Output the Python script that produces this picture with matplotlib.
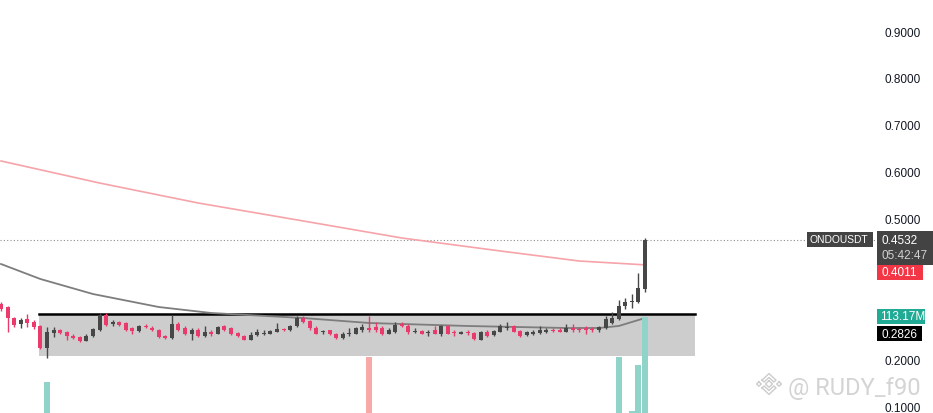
import matplotlib
matplotlib.use("Agg")
import matplotlib.pyplot as plt
from matplotlib.patches import Rectangle
import numpy as np

# candles (OHLC), oldest first
opens = [0.318, 0.311, 0.288, 0.275, 0.286, 0.279, 0.271, 0.224, 0.256, 0.262,
         0.258, 0.249, 0.247, 0.239, 0.249, 0.262, 0.294, 0.275, 0.279, 0.277,
         0.266, 0.260, 0.271, 0.266, 0.262, 0.249, 0.245, 0.275, 0.266, 0.254,
         0.262, 0.249, 0.258, 0.254, 0.271, 0.266, 0.256, 0.249, 0.241, 0.251,
         0.254, 0.254, 0.258, 0.264, 0.262, 0.271, 0.288, 0.281, 0.266, 0.258,
         0.262, 0.254, 0.245, 0.254, 0.254, 0.262, 0.266, 0.269, 0.266, 0.254,
         0.258, 0.275, 0.271, 0.258, 0.260, 0.256, 0.262, 0.254, 0.271, 0.258,
         0.254, 0.258, 0.256, 0.241, 0.258, 0.251, 0.258, 0.266, 0.271, 0.260,
         0.251, 0.254, 0.256, 0.258, 0.262, 0.262, 0.258, 0.266, 0.264, 0.266,
         0.264, 0.262, 0.266, 0.277, 0.286, 0.313, 0.322, 0.322, 0.350]
highs = [0.322, 0.313, 0.290, 0.288, 0.296, 0.283, 0.272, 0.269, 0.269, 0.264,
         0.260, 0.254, 0.249, 0.254, 0.266, 0.298, 0.298, 0.283, 0.281, 0.279,
         0.269, 0.273, 0.275, 0.271, 0.264, 0.251, 0.294, 0.279, 0.271, 0.266,
         0.266, 0.271, 0.262, 0.271, 0.273, 0.269, 0.258, 0.251, 0.258, 0.264,
         0.262, 0.262, 0.277, 0.266, 0.273, 0.292, 0.292, 0.283, 0.271, 0.262,
         0.263, 0.256, 0.258, 0.266, 0.269, 0.275, 0.292, 0.279, 0.271, 0.266,
         0.279, 0.279, 0.275, 0.266, 0.262, 0.262, 0.271, 0.273, 0.273, 0.262,
         0.260, 0.262, 0.258, 0.260, 0.262, 0.262, 0.275, 0.279, 0.273, 0.262,
         0.260, 0.262, 0.271, 0.266, 0.266, 0.266, 0.275, 0.275, 0.269, 0.271,
         0.269, 0.271, 0.292, 0.301, 0.326, 0.330, 0.339, 0.384, 0.4575]
lows = [0.303, 0.258, 0.269, 0.266, 0.269, 0.264, 0.222, 0.202, 0.247, 0.254,
        0.241, 0.243, 0.237, 0.238, 0.247, 0.260, 0.271, 0.271, 0.271, 0.260,
        0.254, 0.258, 0.266, 0.260, 0.245, 0.243, 0.244, 0.260, 0.251, 0.241,
        0.248, 0.248, 0.249, 0.253, 0.260, 0.251, 0.248, 0.240, 0.240, 0.249,
        0.251, 0.253, 0.257, 0.260, 0.261, 0.269, 0.278, 0.262, 0.253, 0.254,
        0.251, 0.243, 0.243, 0.249, 0.253, 0.258, 0.258, 0.258, 0.251, 0.253,
        0.256, 0.269, 0.254, 0.256, 0.253, 0.249, 0.253, 0.249, 0.253, 0.249,
        0.253, 0.251, 0.241, 0.240, 0.247, 0.249, 0.257, 0.262, 0.257, 0.248,
        0.249, 0.251, 0.254, 0.256, 0.258, 0.257, 0.257, 0.258, 0.258, 0.254,
        0.258, 0.258, 0.264, 0.275, 0.283, 0.307, 0.309, 0.320, 0.343]
closes = [0.307, 0.288, 0.273, 0.283, 0.277, 0.269, 0.224, 0.258, 0.262, 0.256,
          0.249, 0.245, 0.239, 0.249, 0.264, 0.294, 0.273, 0.279, 0.273, 0.262,
          0.260, 0.271, 0.269, 0.262, 0.247, 0.245, 0.275, 0.262, 0.254, 0.262,
          0.249, 0.258, 0.254, 0.269, 0.262, 0.254, 0.249, 0.241, 0.251, 0.258,
          0.256, 0.260, 0.264, 0.262, 0.271, 0.288, 0.279, 0.266, 0.254, 0.260,
          0.254, 0.245, 0.254, 0.256, 0.266, 0.269, 0.262, 0.262, 0.254, 0.262,
          0.273, 0.271, 0.258, 0.260, 0.254, 0.258, 0.254, 0.271, 0.254, 0.256,
          0.258, 0.256, 0.243, 0.258, 0.249, 0.260, 0.271, 0.269, 0.258, 0.249,
          0.258, 0.258, 0.262, 0.262, 0.260, 0.258, 0.266, 0.262, 0.262, 0.262,
          0.262, 0.269, 0.286, 0.288, 0.313, 0.322, 0.324, 0.352, 0.4532]

# moving averages, sampled at candle positions
red_ma_idx = [0, 15, 30, 46, 61, 76, 88, 98]
red_ma_val = [0.6227, 0.5757, 0.5331, 0.4947, 0.4584, 0.4307, 0.4093, 0.4011]
gray_ma_idx = [0, 6, 14, 24, 32, 46, 56, 71, 86, 91, 94, 98]
gray_ma_val = [0.4029, 0.3709, 0.3389, 0.3112, 0.2984, 0.2877, 0.2771, 0.2707,
               0.2664, 0.2664, 0.2707, 0.2877]

# volume bars tall enough to show (millions)
vol_idx = [7, 56, 94, 96, 97, 98]
vol_val = [73.8, 88.9, 88.9, 56.2, 84.1, 113.17]

# range box
box_start, box_end = 5.8, 105.6
box_low, box_high = 0.2067, 0.2963

last_price = 0.4532
y_ticks = [0.1, 0.2, 0.3, 0.4, 0.5, 0.6, 0.7, 0.8, 0.9]

UP = "#474747"
DOWN = "#ea3a6c"
W, H = 933, 414
FONT = "Liberation Sans"

fig = plt.figure(figsize=(W / 100, H / 100), dpi=100)
ax = fig.add_axes([0, 0, 875 / W, 1])

x = np.arange(len(opens))
o = np.array(opens)
c = np.array(closes)
up = c >= o
colors = [UP if u else DOWN for u in up]

ax.add_patch(Rectangle((box_start, box_low), box_end - box_start, box_high - box_low,
                       facecolor="#cdcdcd", edgecolor="none", zorder=1))
ax.plot([box_start, box_end], [box_high, box_high], color="black", lw=1.8, zorder=2)

ax.plot(red_ma_idx, red_ma_val, color="#f6a3a9", lw=1.2, zorder=2)
ax.plot(gray_ma_idx, gray_ma_val, color="#7d7d7d", lw=1.3, zorder=2)

ax.vlines(x, lows, highs, colors=colors, lw=1, zorder=3)
body = np.maximum(np.abs(c - o), 0.0014)
ax.bar(x, body, bottom=np.minimum(o, c), width=0.62, color=colors, zorder=4)

ax.axhline(last_price, color="#8c8c8c", ls=(0, (1, 2)), lw=0.8, zorder=1)

ax.set_xlim(-0.15, 133)
ax.set_ylim(0.08507, 0.96827)
ax.set_xticks([])
for s in ax.spines.values():
    s.set_visible(False)

axv = ax.twinx()
vcol = ["#8fd3c9" if up[i] else "#f7a9a8" for i in vol_idx]
axv.bar(vol_idx, vol_val, width=0.9, color=vcol, zorder=5)
axv.set_ylim(55, 305.9)
axv.set_yticks([])
for s in axv.spines.values():
    s.set_visible(False)

# twinx moves the price ticks to the left, put them back on the right
ax.yaxis.tick_right()
ax.set_yticks(y_ticks)
ax.set_yticklabels([f"{t:.4f}" for t in y_ticks], family=FONT)
ax.tick_params(axis="y", length=0, pad=7, labelsize=8.5, labelcolor="#131722")


def fx(px):
    return px / W


def fy(py):
    return 1 - py / H


def tag(x0, x1, y0, y1, fc):
    fig.add_artist(Rectangle((fx(x0), fy(y1)), (x1 - x0) / W, (y1 - y0) / H,
                             transform=fig.transFigure, facecolor=fc,
                             edgecolor="none", zorder=5))


def label(px, py, s, col="white", size=8.5):
    fig.text(fx(px), fy(py), s, color=col, fontsize=size, family=FONT,
             va="center", zorder=6)


tag(807, 873, 233, 248, "#434343")
label(810, 240.5, "ONDOUSDT", size=7.4)
tag(877, 933, 232, 266, "#434343")
label(881, 241, f"{last_price:.4f}")
label(881, 256, "05:42:47", col="#d0d0d0")
tag(877, 923, 266, 281, "#f23645")
label(881, 273.5, f"{red_ma_val[-1]:.4f}")
tag(877, 925, 310, 325, "#22ab94")
label(880, 317.5, f"{vol_val[-1]:.2f}M")
tag(877, 922, 327, 342, "#000000")
label(881, 334.5, "0.2826")

# watermark
fig.text(fx(788), fy(395), "@ RUDY_f90", color="#d4d4d4", fontsize=17,
         family="Roboto", va="baseline", zorder=7)
lg = fig.add_axes([fx(755), fy(398), 28 / W, 26 / H])
lg.set_xlim(-1, 1)
lg.set_ylim(-1, 1)
lg.axis("off")
lc = "#cccccc"
lg.plot([0, 0.25, 0, -0.25, 0], [0.25, 0, -0.25, 0, 0.25], color=lc, lw=1)
for cx in (-0.72, 0.72):
    lg.plot([cx, cx + 0.17, cx, cx - 0.17, cx], [0.17, 0, -0.17, 0, 0.17], color=lc, lw=1)
for sgn in (1, -1):
    lg.plot([-0.5, 0, 0.5, 0.35, 0, -0.35, -0.5],
            [sgn * 0.3, sgn * 0.8, sgn * 0.3, sgn * 0.15, sgn * 0.5, sgn * 0.15, sgn * 0.3],
            color=lc, lw=1)

fig.savefig("out.png", dpi=100, facecolor="white")
